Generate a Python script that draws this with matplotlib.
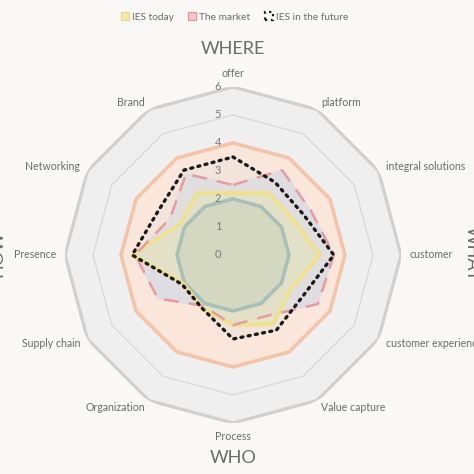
import numpy as np
import matplotlib.pyplot as plt
from matplotlib.patches import Patch

categories = ['offer', 'platform', 'integral solutions', 'customer',
              'customer experience', 'Value capture', 'Process', 'Organization',
              'Supply chain', 'Presence', 'Networking', 'Brand']
ies_today = [2.2, 2.55, 2.5, 3.1, 2.4, 2.85, 2.5, 2.2, 2.05, 3.6, 2.2, 2.55]
the_market = [2.5, 3.5, 3.2, 3.6, 3.5, 2.5, 2.5, 2.1, 3.1, 3.5, 2.6, 3.35]
ies_future = [3.5, 3.0, 2.9, 3.6, 2.9, 3.1, 3.0, 2.2, 2.1, 3.6, 3.1, 3.5]
upper_band = [4, 4, 4, 4, 4, 4, 4, 4, 4, 4, 4, 4]
lower_band = [2, 2, 2, 2, 2, 2, 2, 2, 2, 2, 2, 2]
ticks = [0, 1, 2, 3, 4, 5, 6]
side_titles = ['WHERE', 'WHAT', 'WHO', 'HOW']

plt.rcParams['font.family'] = ['Lato', 'DejaVu Sans']
text_col = '#6b6b6b'


def closed(vals):
    return list(vals) + [vals[0]]


fig = plt.figure(figsize=(4.74, 4.74), dpi=100, facecolor='#faf8f6')
ax = fig.add_axes([0.1371, 0.1076, 0.7089, 0.7089], projection='polar')
ax.set_theta_zero_location('N')
ax.set_theta_direction(-1)
ax.set_ylim(0, 6)
ax.set_xticks([])
ax.set_yticks([])
ax.grid(False)
ax.spines['polar'].set_visible(False)
ax.patch.set_alpha(0)

n = len(categories)
ang = np.linspace(0, 2 * np.pi, n, endpoint=False)
ang_c = closed(ang)

# background polygon + grid
ax.fill(ang_c, closed([ticks[-1]] * n), color='#efefef', zorder=0)
for t in ticks[1:-1]:
    ax.plot(ang_c, closed([t] * n), color='#d2d2d2', lw=0.7, zorder=1)
ax.plot(ang_c, closed([ticks[-1]] * n), color='#d0d0d0', lw=2.3, zorder=1)

# series
ax.fill(ang_c, closed(upper_band), color='#fbe6dc', zorder=2)
ax.plot(ang_c, closed(upper_band), color='#f3c4a8', lw=2.6, zorder=6)

ax.fill(ang_c, closed(the_market), color='#dcdce3', alpha=0.9, zorder=3)
ax.fill(ang_c, closed(ies_future), color='#e2e2da', alpha=0.35, zorder=3)
ax.fill(ang_c, closed(ies_today), color='#e4e4b8', alpha=0.6, zorder=4)
ax.fill(ang_c, closed(lower_band), color='#c8d0bc', alpha=0.5, zorder=4)

ax.plot(ang_c, closed(lower_band), color='#a9c0ba', lw=2.6, zorder=6)
ax.plot(ang_c, closed(ies_today), color='#f0e08c', lw=3, alpha=0.9, zorder=7)
ax.plot(ang_c, closed(the_market), color='#e89aa2', lw=1.8, dashes=(6, 4), zorder=8)
ax.plot(ang_c, closed(ies_future), color='#1a1a1a', lw=2.4, linestyle=(0, (0.6, 1.6)),
        dash_capstyle='round', zorder=9)

# tick labels
for t in ticks:
    ax.annotate(str(t), xy=(0, t), xytext=(-15, 0), textcoords='offset pixels',
                ha='center', va='center', fontsize=8, color='#7a7a7a', zorder=10)

# category labels
for a, lab in zip(ang, categories):
    s = np.sin(a)
    if s > 0.1:
        ha, va = 'left', 'center'
    elif s < -0.1:
        ha, va = 'right', 'center'
    else:
        ha = 'center'
        va = 'bottom' if np.cos(a) > 0 else 'top'
    ax.text(a, 6.3, lab, ha=ha, va=va, fontsize=7.6, color=text_col, clip_on=False)

# side titles
fig.text(0.4916, 0.897, side_titles[0], ha='center', va='center', fontsize=13, color=text_col)
fig.text(0.9958, 0.465, side_titles[1], ha='center', va='center', fontsize=13,
         color=text_col, rotation=270)
fig.text(0.4916, 0.034, side_titles[2], ha='center', va='center', fontsize=13, color=text_col)
fig.text(-0.006, 0.465, side_titles[3], ha='center', va='center', fontsize=13,
         color=text_col, rotation=90)

handles = [Patch(facecolor='#f6e8a8', edgecolor='#f0d878', lw=0.8),
           Patch(facecolor='#f4c6c8', edgecolor='#e8909a', lw=0.8),
           Patch(facecolor='none', edgecolor='#1a1a1a', lw=1.6, linestyle=':')]
fig.legend(handles, ['IES today', 'The market', 'IES in the future'],
           loc='center', bbox_to_anchor=(0.495, 0.964), ncol=3, frameon=False,
           fontsize=7.3, handlelength=0.8, handleheight=0.8, handletextpad=0.3,
           columnspacing=1.4, labelcolor=text_col)

fig.savefig('out.png', dpi=100, facecolor=fig.get_facecolor())
